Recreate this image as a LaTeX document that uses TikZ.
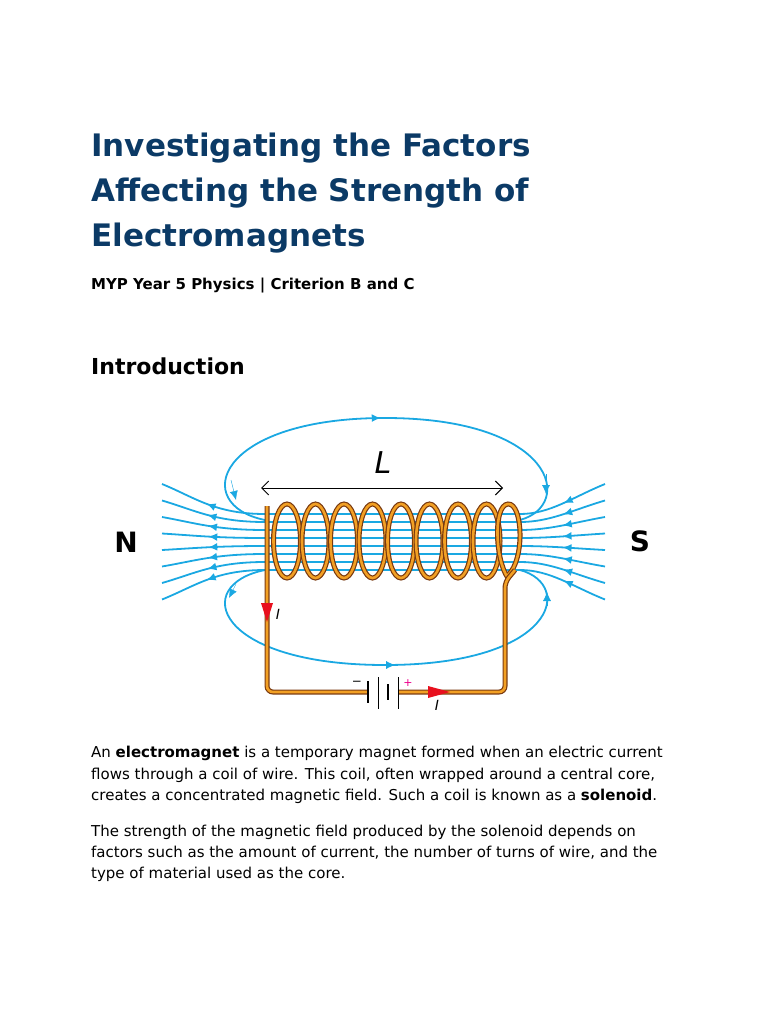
\documentclass[tikz,border=0pt]{standalone}
\usepackage{fontspec}
\setmainfont{DejaVu Sans}
\usetikzlibrary{arrows.meta,decorations.markings}
\definecolor{ttl}{HTML}{0B3A66}
\definecolor{fblue}{HTML}{1AA8E2}
\definecolor{wor}{HTML}{F2A024}
\definecolor{wbr}{HTML}{7A3A10}
\definecolor{ired}{HTML}{E8101E}
\tikzset{
 txt/.style={anchor=base west,inner sep=0pt,font=\fontsize{15}{18}\selectfont},
 ttlline/.style={anchor=base west,inner sep=0pt,text=ttl,font=\fontsize{31}{36}\selectfont\bfseries},
 fl/.style={draw=fblue,line width=1.8pt},
 arrat/.style={postaction={decorate},decoration={markings,mark=at position #1 with {\arrow[fblue]{Latex[length=9pt,width=8pt]}}}},
 wire/.style={draw=wbr,double=wor,line width=1.2pt,double distance=2.6pt,rounded corners=6pt},
}
\begin{document}
\begin{tikzpicture}[x=1pt,y=-1pt]
\useasboundingbox (0,0) rectangle (768,1024);
\node[ttlline] (t1) at (91,157) {Investigating the Factors};
\node[ttlline] (t2) at (91,202) {Affecting the Strength of};
\node[ttlline] (t3) at (91,247) {Electromagnets};
\node[txt,font=\fontsize{15}{18}\selectfont\bfseries] (sub) at (91,289) {MYP Year 5 Physics | Criterion B and C};
\node[anchor=base west,inner sep=0pt,font=\fontsize{22}{26}\selectfont\bfseries] (intro) at (91,374) {Introduction};
% outer loops
\draw[fl,arrat=0.5] (265,520) .. controls (190,505) and (215,418) .. (385,418) .. controls (555,418) and (575,505) .. (520,520);
\draw[fl] (265,570) .. controls (190,585) and (215,665) .. (385,665) .. controls (555,665) and (575,585) .. (520,570);
\draw[fblue,-{Latex[length=9pt,width=8pt]}] (231,480) -- (236,500);
\draw[fblue,-{Latex[length=9pt,width=8pt]}] (546,474) -- (546,494);
\draw[fblue,-{Latex[length=9pt,width=8pt]}] (236,584) -- (229,598);
\draw[fblue,-{Latex[length=9pt,width=8pt]}] (547,606) -- (547,592);
\draw[fblue,-{Latex[length=9pt,width=8pt]}] (375,665) -- (395,665);
% inner lines
\foreach \k in {0,...,7}{
 \pgfmathsetmacro\yi{514+\k*8}
 \pgfmathsetmacro\yo{484+\k*16.5}
 \pgfmathsetmacro\ym{\yo+0.45*(\yi-\yo)}
 \draw[fl] (265,\yi) -- (520,\yi);
 \draw[fl,arrat=0.55] (265,\yi) .. controls (215,\yi) and (195,\ym) .. (162,\yo);
 \draw[fl,arrat=0.5] (605,\yo) .. controls (572,\ym) and (550,\yi) .. (520,\yi);
}
% coil
\foreach \i in {0,...,7}{
 \pgfmathsetmacro\cx{287+28.5*\i}
 \draw[wire] (\cx,541) ellipse [x radius=13.5,y radius=37];
}
\draw[wire,rounded corners=0pt] (508,578) .. controls (495,560) and (493,505) .. (508,504) .. controls (523,503) and (525,560) .. (508,575);
\draw[wire] (267,506) -- (267,692) -- (368,692);
\draw[wire] (398,692) -- (505,692) -- (505,582) -- (515,570);
% battery
\draw[line width=2pt] (368,681) -- (368,703);
\draw[line width=1pt] (378,677) -- (378,709);
\draw[line width=2pt] (388,684) -- (388,700);
\draw[line width=1pt] (398,677) -- (398,709);
\node[font=\fontsize{12}{12}\selectfont] (minus) at (357,683) {−};
\node[text=magenta,font=\fontsize{11}{11}\selectfont] (plus) at (408,683) {+};
\fill[ired] (261,603) -- (273,603) -- (267,622) -- cycle;
\fill[ired] (428,686) -- (428,698) -- (450,692) -- cycle;
\node[font=\fontsize{14}{14}\selectfont\itshape] (I1) at (278,614) {I};
\node[font=\fontsize{14}{14}\selectfont\itshape] (I2) at (437,705) {I};
\node[font=\fontsize{30}{30}\selectfont] (L) at (383,463) {\textit{L}};
\coordinate (La) at (261,488); \coordinate (Lb) at (503,488);
\draw[{Straight Barb[length=7pt]}-{Straight Barb[length=7pt]},line width=1pt] (La) -- (Lb);
\node[font=\fontsize{28}{28}\selectfont\bfseries] (N) at (126,542) {N};
\node[font=\fontsize{28}{28}\selectfont\bfseries] (S) at (640,541) {S};
% text
\node[txt] (p1) at (91,757) {An \textbf{electromagnet} is a temporary magnet formed when an electric current};
\node[txt] (p2) at (91,779) {flows through a coil of wire. This coil, often wrapped around a central core,};
\node[txt] (p3) at (91,800) {creates a concentrated magnetic field. Such a coil is known as a \textbf{solenoid}.};
\node[txt] (q1) at (91,836) {The strength of the magnetic field produced by the solenoid depends on};
\node[txt] (q2) at (91,857) {factors such as the amount of current, the number of turns of wire, and the};
\node[txt] (q3) at (91,878) {type of material used as the core.};
\end{tikzpicture}
\end{document}
